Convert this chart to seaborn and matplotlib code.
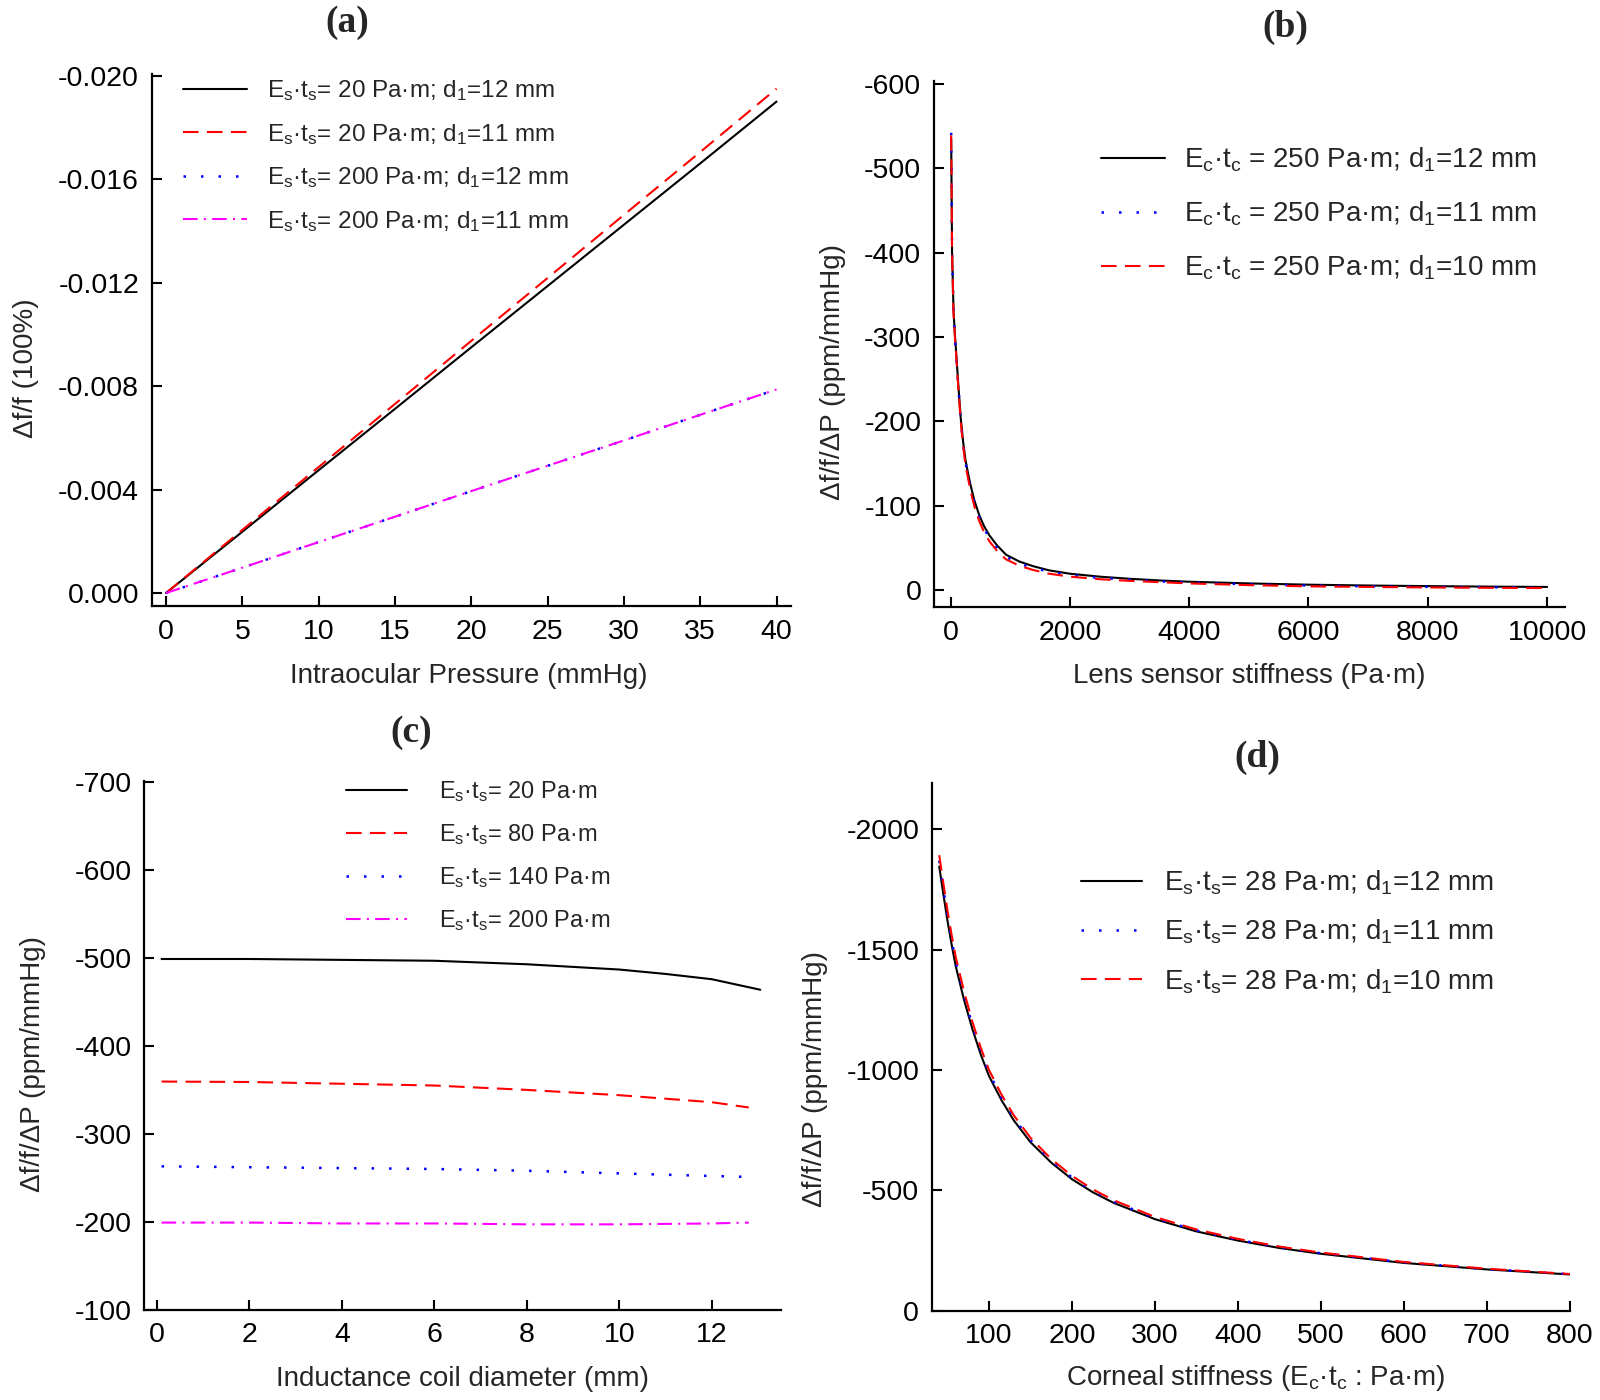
import pandas as pd
import seaborn as sns
import matplotlib.pyplot as plt
from matplotlib.ticker import FormatStrFormatter, MultipleLocator

sns.set_style("ticks")
plt.rcParams["font.family"] = ["Liberation Sans", "DejaVu Sans"]
plt.rcParams["mathtext.fontset"] = "custom"
plt.rcParams["mathtext.rm"] = "Liberation Sans"
plt.rcParams["mathtext.it"] = "Liberation Sans:italic"
plt.rcParams["mathtext.bf"] = "Liberation Sans:bold"
plt.rcParams["axes.unicode_minus"] = False

# (a) frequency shift vs intraocular pressure
iop = [0, 5, 10, 15, 20, 25, 30, 35, 40]
a_s20_d12 = [0, -0.00237, -0.00475, -0.00712, -0.0095, -0.01187, -0.01424, -0.01661, -0.0190]
a_s20_d11 = [0, -0.00244, -0.00487, -0.00731, -0.00975, -0.01218, -0.01462, -0.01705, -0.0195]
a_s200_d12 = [0, -0.00098, -0.00197, -0.00295, -0.00394, -0.00492, -0.0059, -0.00689, -0.00787]
a_s200_d11 = [0, -0.00098, -0.00197, -0.00295, -0.00394, -0.00492, -0.0059, -0.00689, -0.00787]

# (b) sensitivity vs lens sensor stiffness
lens_k = [10, 25, 50, 75, 100, 130, 170, 210, 250, 300, 340, 400, 480, 560, 650, 780,
          930, 1150, 1380, 1650, 2000, 2500, 3000, 3500, 4000, 5000, 6000, 7000, 8000,
          9000, 10000]
b_d12 = [-535, -400, -330, -300, -275, -243, -204, -176, -154, -136, -123, -106, -89, -76,
         -65, -53, -42, -34, -28.5, -23.5, -19.5, -16, -13.5, -11.5, -10, -8, -6.5, -5.5,
         -4.8, -4.2, -3.8]
b_d11 = [-542, -402, -330, -299, -274, -241, -202, -174, -151, -133, -120, -103, -86, -73,
         -62, -50, -39.5, -31.5, -26.5, -22, -18, -14.5, -12.5, -10.5, -9, -7, -5.5, -4.5,
         -4, -3.5, -3]
b_d10 = [-539, -398, -327, -297, -272, -239, -200, -171, -148, -130, -116, -99, -82, -69,
         -58, -46.5, -36.5, -29, -24, -19.5, -16, -13, -11, -9.5, -8, -6, -4.5, -3.8,
         -3.2, -2.8, -2.5]

# (c) sensitivity vs coil diameter
coil_d = [0.1, 2, 4, 6, 8, 10, 11, 12, 12.8]
coil_d_end = [0.1, 2, 4, 6, 8, 10, 11, 12, 13.05]
c_s20 = [-499, -499, -498, -497, -493, -487, -482, -476, -464]
c_s80 = [-359.5, -359, -357, -355, -350, -344, -340, -336, -330]
c_s140 = [-263, -262, -261, -260, -258, -255, -253.5, -252, -251]
c_s200 = [-199, -199, -198, -198, -197, -197, -197.5, -198, -199]

# (d) sensitivity vs corneal stiffness
cornea_k = [40, 45, 50, 55, 60, 70, 80, 90, 100, 115, 130, 150, 175, 200, 225, 250, 300,
            350, 400, 450, 500, 600, 700, 800]
d_d12 = [-1846, -1730, -1620, -1520, -1430, -1290, -1170, -1065, -975, -875, -790, -700,
         -615, -546, -492, -448, -380, -329, -291, -260, -236, -198, -171, -150]
d_d11 = [-1870, -1752, -1641, -1540, -1449, -1307, -1185, -1079, -988, -886, -800, -709,
         -622, -553, -498, -453, -384, -333, -294, -263, -238, -200, -172, -151]
d_d10 = [-1893, -1775, -1662, -1560, -1468, -1325, -1200, -1093, -1000, -898, -811, -718,
         -630, -560, -504, -459, -389, -337, -298, -266, -241, -202, -174, -152]

SOLID = "-"
DASH = (0, (7.5, 4))
DOT = (0, (1, 6))
DASHDOT = (0, (7, 3, 1, 3))


def style_axes(ax):
    sns.despine(ax=ax)
    for side in ["left", "bottom"]:
        ax.spines[side].set_linewidth(1.6)
        ax.spines[side].set_color("black")
    ax.tick_params(direction="in", length=7, width=1.5, labelsize=20.5, pad=9, colors="black")


def line(ax, x, y, color, ls, lab):
    lw = 1.8 if ls == DOT else 1.5
    sns.lineplot(x=x, y=y, ax=ax, color=color, linestyle=ls, linewidth=lw, label=lab)


fig = plt.figure(figsize=(16, 14), dpi=100)

# ---- (a)
ax = fig.add_axes([0.0947, 0.5668, 0.3997, 0.3804])
line(ax, iop, a_s20_d12, "black", SOLID, "E$_\\mathrm{s}$·t$_\\mathrm{s}$= 20 Pa·m; d$_\\mathrm{1}$=12 mm")
line(ax, iop, a_s20_d11, "red", DASH, "E$_\\mathrm{s}$·t$_\\mathrm{s}$= 20 Pa·m; d$_\\mathrm{1}$=11 mm")
line(ax, iop, a_s200_d12, "blue", DOT, "E$_\\mathrm{s}$·t$_\\mathrm{s}$= 200 Pa·m; d$_\\mathrm{1}$=12 mm")
line(ax, iop, a_s200_d11, "magenta", DASHDOT, "E$_\\mathrm{s}$·t$_\\mathrm{s}$= 200 Pa·m; d$_\\mathrm{1}$=11 mm")
ax.set_xlim(-0.95, 40.95)
ax.set_ylim(0.00052, -0.02007)
ax.xaxis.set_major_locator(MultipleLocator(5))
ax.yaxis.set_major_locator(MultipleLocator(0.004))
ax.yaxis.set_major_formatter(FormatStrFormatter("%.3f"))
style_axes(ax)
ax.set_xlabel("Intraocular Pressure (mmHg)", fontsize=20)
ax.set_ylabel("Δf/f (100%)", fontsize=20)
ax.xaxis.set_label_coords(0.496, -0.106)
ax.yaxis.set_label_coords(-0.176, 0.448)
ax.legend(loc="center left", bbox_to_anchor=(183 / 1600, 1 - 156 / 1400),
          bbox_transform=fig.transFigure, frameon=False, fontsize=17.5,
          handlelength=2.65, handletextpad=0.8, labelspacing=0.76, borderpad=0, borderaxespad=0)

# ---- (b)
ax = fig.add_axes([0.5836, 0.5664, 0.3946, 0.3755])
line(ax, lens_k, b_d12, "black", SOLID, "E$_\\mathrm{c}$·t$_\\mathrm{c}$ = 250 Pa·m; d$_\\mathrm{1}$=12 mm")
line(ax, lens_k, b_d11, "blue", DOT, "E$_\\mathrm{c}$·t$_\\mathrm{c}$ = 250 Pa·m; d$_\\mathrm{1}$=11 mm")
line(ax, lens_k, b_d10, "red", DASH, "E$_\\mathrm{c}$·t$_\\mathrm{c}$ = 250 Pa·m; d$_\\mathrm{1}$=10 mm")
ax.set_xlim(-282, 10302)
ax.set_ylim(20, -603)
ax.xaxis.set_major_locator(MultipleLocator(2000))
ax.yaxis.set_major_locator(MultipleLocator(100))
style_axes(ax)
ax.set_xlabel("Lens sensor stiffness (Pa·m)", fontsize=20)
ax.set_ylabel("Δf/f/ΔP (ppm/mmHg)", fontsize=20)
ax.xaxis.set_label_coords(0.499, -0.106)
ax.yaxis.set_label_coords(-0.139, 0.447)
ax.legend(loc="center left", bbox_to_anchor=(1101 / 1600, 1 - 214 / 1400),
          bbox_transform=fig.transFigure, frameon=False, fontsize=20,
          handlelength=2.3, handletextpad=0.68, labelspacing=0.92, borderpad=0, borderaxespad=0)

# ---- (c)
ax = fig.add_axes([0.09, 0.0646, 0.3979, 0.3778])
line(ax, coil_d_end, c_s20, "black", SOLID, "E$_\\mathrm{s}$·t$_\\mathrm{s}$= 20 Pa·m")
line(ax, coil_d, c_s80, "red", DASH, "E$_\\mathrm{s}$·t$_\\mathrm{s}$= 80 Pa·m")
line(ax, coil_d, c_s140, "blue", DOT, "E$_\\mathrm{s}$·t$_\\mathrm{s}$= 140 Pa·m")
line(ax, coil_d, c_s200, "magenta", DASHDOT, "E$_\\mathrm{s}$·t$_\\mathrm{s}$= 200 Pa·m")
ax.set_xlim(-0.28, 13.49)
ax.set_ylim(-100, -702)
ax.xaxis.set_major_locator(MultipleLocator(2))
ax.yaxis.set_major_locator(MultipleLocator(100))
style_axes(ax)
ax.set_xlabel("Inductance coil diameter (mm)", fontsize=20)
ax.set_ylabel("Δf/f/ΔP (ppm/mmHg)", fontsize=20)
ax.xaxis.set_label_coords(0.4995, -0.106)
ax.yaxis.set_label_coords(-0.154, 0.464)
ax.legend(loc="center left", bbox_to_anchor=(346 / 1600, 1 - 856 / 1400),
          bbox_transform=fig.transFigure, frameon=False, fontsize=17,
          handlelength=2.6, handletextpad=1.35, labelspacing=0.76, borderpad=0, borderaxespad=0)

# ---- (d)
ax = fig.add_axes([0.5823, 0.0639, 0.39875, 0.3768])
line(ax, cornea_k, d_d12, "black", SOLID, "E$_\\mathrm{s}$·t$_\\mathrm{s}$= 28 Pa·m; d$_\\mathrm{1}$=12 mm")
line(ax, cornea_k, d_d11, "blue", DOT, "E$_\\mathrm{s}$·t$_\\mathrm{s}$= 28 Pa·m; d$_\\mathrm{1}$=11 mm")
line(ax, cornea_k, d_d10, "red", DASH, "E$_\\mathrm{s}$·t$_\\mathrm{s}$= 28 Pa·m; d$_\\mathrm{1}$=10 mm")
ax.set_xlim(30.9, 800)
ax.set_ylim(0, -2193)
ax.yaxis.set_major_locator(MultipleLocator(500))
style_axes(ax)
ax.set_xticks([100, 200, 300, 400, 500, 600, 700, 800])
ax.set_xlabel("Corneal stiffness (E$_\\mathrm{c}$·t$_\\mathrm{c}$ : Pa·m)", fontsize=20)
ax.set_ylabel("Δf/f/ΔP (ppm/mmHg)", fontsize=20)
ax.xaxis.set_label_coords(0.508, -0.1)
ax.yaxis.set_label_coords(-0.1626, 0.439)
ax.legend(loc="center left", bbox_to_anchor=(1081 / 1600, 1 - 932 / 1400),
          bbox_transform=fig.transFigure, frameon=False, fontsize=20,
          handlelength=2.2, handletextpad=0.8, labelspacing=0.75, borderpad=0, borderaxespad=0)

# panel letters
for lab, x, y in [("(a)", 347, 22), ("(b)", 1285, 27), ("(c)", 411, 733), ("(d)", 1257, 757)]:
    fig.text(x / 1600, 1 - y / 1400, lab, ha="center", va="center",
             fontsize=27, fontweight="bold", family=["Liberation Serif", "DejaVu Serif"])

fig.savefig("out.png", dpi=100, facecolor="white")
